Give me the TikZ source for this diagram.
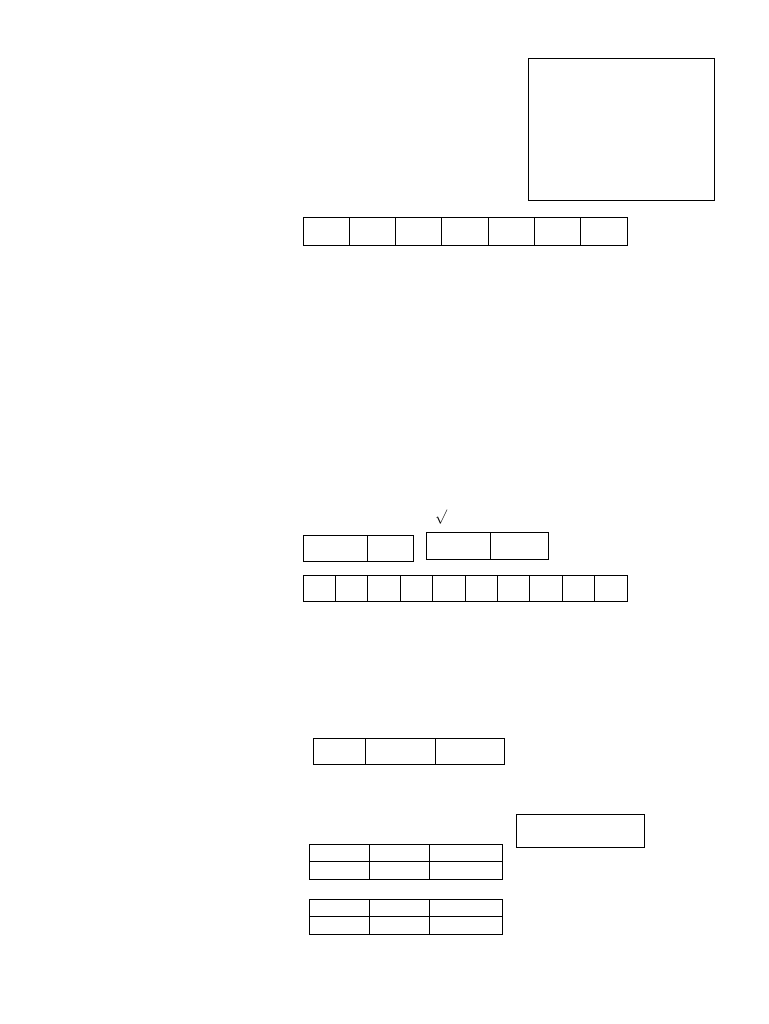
\documentclass[tikz,border=0pt]{standalone}
\begin{document}
\begin{tikzpicture}[x=1pt,y=-1pt,line width=1pt]

\useasboundingbox (0,0) rectangle (768,1024);

% top
\draw (528,59) -- (714,59) -- (714,201) -- (528,201) -- cycle;

\draw (303,218) -- (627,218) -- (627,245) -- (303,245) -- cycle;
\foreach \i in {1,...,6} {
  \draw ({303+\i*46.29},218) -- ({303+\i*46.29},245);
}

% middle
\node[font=\Large,inner sep=0pt] (check) at (441,517) {$\surd$};

\draw (303,535) -- (413,535) -- (413,561) -- (303,561) -- cycle;
\draw (367,535) -- (367,561);

\draw (426,532) -- (548,532) -- (548,559) -- (426,559) -- cycle;
\draw (490,532) -- (490,559);

\draw (303,575) -- (627,575) -- (627,601) -- (303,601) -- cycle;
\foreach \i in {1,...,9} {
  \draw ({303+\i*32.4},575) -- ({303+\i*32.4},601);
}

% bottom
\draw (313,738) -- (504,738) -- (504,764) -- (313,764) -- cycle;
\draw (365,738) -- (365,764);
\draw (435,738) -- (435,764);

\draw (516,814) -- (644,814) -- (644,847) -- (516,847) -- cycle;

\foreach \y in {844,899} {
  \draw (309,\y) -- (502,\y) -- (502,{\y+35}) -- (309,{\y+35}) -- cycle;
  \draw (309,{\y+17.5}) -- (502,{\y+17.5});
  \draw (369,\y) -- (369,{\y+35});
  \draw (429,\y) -- (429,{\y+35});
}

\end{tikzpicture}
\end{document}
